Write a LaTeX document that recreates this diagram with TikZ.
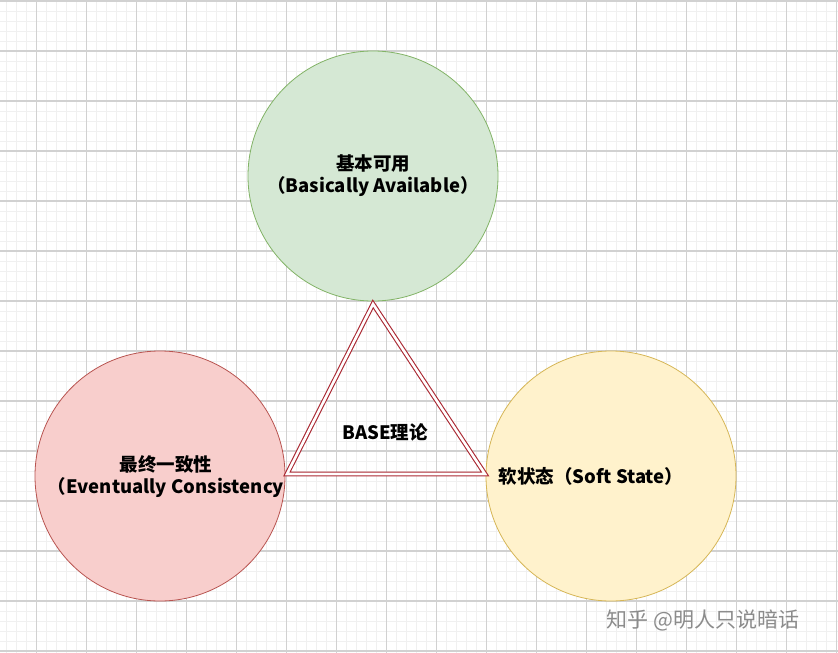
\documentclass[tikz,border=0pt]{standalone}
\usepackage{fontspec}
\setmainfont{Liberation Sans}
\newfontfamily\cjk{Noto Sans CJK SC}
\begin{document}
\begin{tikzpicture}[x=1pt,y=-1pt,
  circ/.style={circle,minimum size=250pt,inner sep=0pt,line width=0.8pt},
  lbl/.style={font=\cjk\bfseries\fontsize{18.5}{22}\selectfont,align=center,text=black},
  tri/.style={draw={rgb,255:red,170;green,40;blue,50},line width=1.1pt,double=white,double distance=2.6pt,line join=miter}]
\useasboundingbox (0,0) rectangle (838,653);
\fill[white] (0,0) rectangle (838,653);
\foreach \x in {6,16,...,838} \draw[black!6,line width=0.6pt] (\x,0)--(\x,653);
\foreach \y in {11,21,...,653} \draw[black!6,line width=0.6pt] (0,\y)--(838,\y);
\foreach \x in {36,86,...,838} \draw[black!18,line width=0.8pt] (\x,0)--(\x,653);
\foreach \y in {1,51,...,653} \draw[black!18,line width=1.2pt] (0,\y)--(838,\y);
\node[circ,draw={rgb,255:red,130;green,179;blue,102},fill={rgb,255:red,213;green,232;blue,212}] (ba) at (373,176) {};
\node[circ,draw={rgb,255:red,184;green,84;blue,80},fill={rgb,255:red,248;green,206;blue,204}] (ec) at (160,476) {};
\node[circ,draw={rgb,255:red,214;green,182;blue,86},fill={rgb,255:red,255;green,242;blue,204}] (ss) at (611,476) {};
\coordinate (t1) at (373,304);
\coordinate (t2) at (287,474);
\coordinate (t3) at (485,474);
\draw[tri] (t1)--(t2)--(t3)--cycle;
\node[lbl] (lba) at (373,176) {基本可用\\（Basically Available）};
\node[lbl,anchor=center] (lec) at (166,477) {最终一致性\\（Eventually Consistency};
\node[lbl] (lss) at (591,476) {软状态（Soft State）};
\node[lbl] (base) at (385,432) {BASE理论};
\node[font=\cjk\fontsize{21}{24}\selectfont,text=black!45] (wm) at (703,620) {知乎 @明人只说暗话};
\end{tikzpicture}
\end{document}
